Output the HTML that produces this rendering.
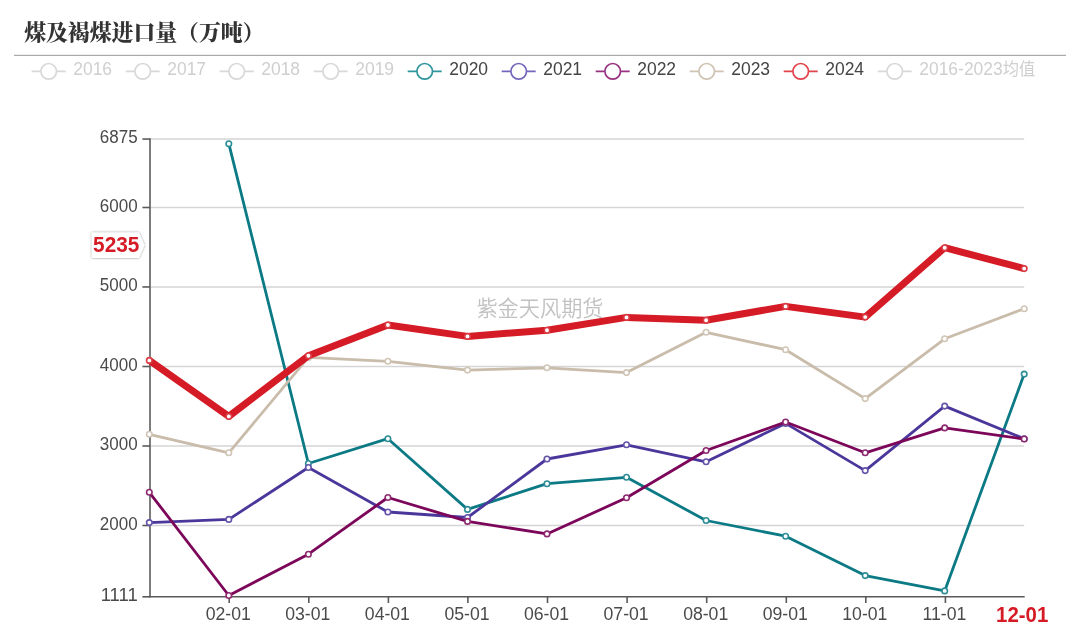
<!DOCTYPE html>
<html lang="zh-CN">
<head>
<meta charset="utf-8">
<title>煤及褐煤进口量（万吨）</title>
<style>
html,body{margin:0;padding:0;background:#fff;}
body{width:1080px;height:630px;overflow:hidden;position:relative;}
svg{position:absolute;left:0;top:0;display:block;}
text{font-family:"Liberation Sans", "Noto Sans CJK SC", sans-serif;}
.title{font-family:"Liberation Serif", "Noto Serif CJK SC", serif;font-weight:900;font-size:21.85px;fill:#333;}
.ax{font-size:18.5px;fill:#4a4a4a;}
.lg{font-size:18.5px;fill:#444;}
.lgoff{font-size:18.5px;fill:#cfcfcf;}
.wm{font-size:21.2px;fill:#c1c1c1;font-weight:350;}
.hl{font-size:21.9px;font-weight:bold;fill:#d51b25;}
</style>
</head>
<body>
<svg width="1080" height="630" viewBox="0 0 1080 630">
<rect x="0" y="0" width="1080" height="630" fill="#ffffff"/>
<text class="title" x="24.2" y="40.4">煤及褐煤进口量（万吨）</text>
<rect x="14" y="54.8" width="1052" height="1.2" fill="#a9a9a9"/>
<g><line x1="31.7" y1="71.3" x2="65.7" y2="71.3" stroke="#d8d8d8" stroke-width="1.7"/><circle cx="48.7" cy="71.3" r="7.8" fill="#fff" stroke="#d8d8d8" stroke-width="1.7"/><text class="lgoff" transform="translate(73.20,75.20) scale(0.945,1)">2016</text></g>
<g><line x1="125.7" y1="71.3" x2="159.7" y2="71.3" stroke="#d8d8d8" stroke-width="1.7"/><circle cx="142.7" cy="71.3" r="7.8" fill="#fff" stroke="#d8d8d8" stroke-width="1.7"/><text class="lgoff" transform="translate(167.20,75.20) scale(0.945,1)">2017</text></g>
<g><line x1="219.7" y1="71.3" x2="253.7" y2="71.3" stroke="#d8d8d8" stroke-width="1.7"/><circle cx="236.7" cy="71.3" r="7.8" fill="#fff" stroke="#d8d8d8" stroke-width="1.7"/><text class="lgoff" transform="translate(261.20,75.20) scale(0.945,1)">2018</text></g>
<g><line x1="313.7" y1="71.3" x2="347.7" y2="71.3" stroke="#d8d8d8" stroke-width="1.7"/><circle cx="330.7" cy="71.3" r="7.8" fill="#fff" stroke="#d8d8d8" stroke-width="1.7"/><text class="lgoff" transform="translate(355.20,75.20) scale(0.945,1)">2019</text></g>
<g><line x1="407.7" y1="71.3" x2="441.7" y2="71.3" stroke="#2f959e" stroke-width="1.7"/><circle cx="424.7" cy="71.3" r="7.8" fill="#fff" stroke="#2f959e" stroke-width="1.7"/><text class="lg" transform="translate(449.20,75.20) scale(0.945,1)">2020</text></g>
<g><line x1="501.7" y1="71.3" x2="535.7" y2="71.3" stroke="#7666bb" stroke-width="1.7"/><circle cx="518.7" cy="71.3" r="7.8" fill="#fff" stroke="#7666bb" stroke-width="1.7"/><text class="lg" transform="translate(543.20,75.20) scale(0.945,1)">2021</text></g>
<g><line x1="595.7" y1="71.3" x2="629.7" y2="71.3" stroke="#973382" stroke-width="1.7"/><circle cx="612.7" cy="71.3" r="7.8" fill="#fff" stroke="#973382" stroke-width="1.7"/><text class="lg" transform="translate(637.20,75.20) scale(0.945,1)">2022</text></g>
<g><line x1="689.7" y1="71.3" x2="723.7" y2="71.3" stroke="#cfc3b2" stroke-width="1.7"/><circle cx="706.7" cy="71.3" r="7.8" fill="#fff" stroke="#cfc3b2" stroke-width="1.7"/><text class="lg" transform="translate(731.20,75.20) scale(0.945,1)">2023</text></g>
<g><line x1="783.7" y1="71.3" x2="817.7" y2="71.3" stroke="#e0444a" stroke-width="1.7"/><circle cx="800.7" cy="71.3" r="7.8" fill="#fff" stroke="#e0444a" stroke-width="1.7"/><text class="lg" transform="translate(825.20,75.20) scale(0.945,1)">2024</text></g>
<g><line x1="877.7" y1="71.3" x2="911.7" y2="71.3" stroke="#d8d8d8" stroke-width="1.7"/><circle cx="894.7" cy="71.3" r="7.8" fill="#fff" stroke="#d8d8d8" stroke-width="1.7"/><text class="lgoff" transform="translate(919.20,75.20) scale(0.945,1)">2016-2023<tspan font-size="17.2">均值</tspan></text></g>
<line x1="150.0" y1="139.05" x2="1024.2" y2="139.05" stroke="#d5d5d5" stroke-width="1.5"/>
<line x1="150.0" y1="207.50" x2="1024.2" y2="207.50" stroke="#d5d5d5" stroke-width="1.5"/>
<line x1="150.0" y1="286.95" x2="1024.2" y2="286.95" stroke="#d5d5d5" stroke-width="1.5"/>
<line x1="150.0" y1="366.50" x2="1024.2" y2="366.50" stroke="#d5d5d5" stroke-width="1.5"/>
<line x1="150.0" y1="446.00" x2="1024.2" y2="446.00" stroke="#d5d5d5" stroke-width="1.5"/>
<line x1="150.0" y1="525.50" x2="1024.2" y2="525.50" stroke="#d5d5d5" stroke-width="1.5"/>
<text class="wm" x="540" y="315.7" text-anchor="middle">紫金天风期货</text>
<line x1="150.0" y1="138.25" x2="150.0" y2="597.60" stroke="#666" stroke-width="1.7"/>
<line x1="149.2" y1="596.80" x2="1024.7" y2="596.80" stroke="#5a5a5a" stroke-width="1.6"/>
<line x1="142.4" y1="139.05" x2="150.0" y2="139.05" stroke="#5a5a5a" stroke-width="1.6"/>
<text class="ax" transform="translate(137.70,143.45) scale(0.92,1)" text-anchor="end">6875</text>
<line x1="142.4" y1="207.50" x2="150.0" y2="207.50" stroke="#5a5a5a" stroke-width="1.6"/>
<text class="ax" transform="translate(137.70,211.90) scale(0.92,1)" text-anchor="end">6000</text>
<line x1="142.4" y1="286.95" x2="150.0" y2="286.95" stroke="#5a5a5a" stroke-width="1.6"/>
<text class="ax" transform="translate(137.70,291.35) scale(0.92,1)" text-anchor="end">5000</text>
<line x1="142.4" y1="366.50" x2="150.0" y2="366.50" stroke="#5a5a5a" stroke-width="1.6"/>
<text class="ax" transform="translate(137.70,370.90) scale(0.92,1)" text-anchor="end">4000</text>
<line x1="142.4" y1="446.00" x2="150.0" y2="446.00" stroke="#5a5a5a" stroke-width="1.6"/>
<text class="ax" transform="translate(137.70,450.40) scale(0.92,1)" text-anchor="end">3000</text>
<line x1="142.4" y1="525.50" x2="150.0" y2="525.50" stroke="#5a5a5a" stroke-width="1.6"/>
<text class="ax" transform="translate(137.70,529.90) scale(0.92,1)" text-anchor="end">2000</text>
<line x1="142.4" y1="596.80" x2="150.0" y2="596.80" stroke="#5a5a5a" stroke-width="1.6"/>
<text class="ax" transform="translate(137.70,601.20) scale(1.0,1)" text-anchor="end">1111</text>
<line x1="229.2" y1="596.8" x2="229.2" y2="603.0" stroke="#5a5a5a" stroke-width="1.6"/>
<text class="ax" transform="translate(228.20,619.90) scale(0.953,1)" text-anchor="middle">02-01</text>
<line x1="308.8" y1="596.8" x2="308.8" y2="603.0" stroke="#5a5a5a" stroke-width="1.6"/>
<text class="ax" transform="translate(307.78,619.90) scale(0.953,1)" text-anchor="middle">03-01</text>
<line x1="388.4" y1="596.8" x2="388.4" y2="603.0" stroke="#5a5a5a" stroke-width="1.6"/>
<text class="ax" transform="translate(387.36,619.90) scale(0.953,1)" text-anchor="middle">04-01</text>
<line x1="467.9" y1="596.8" x2="467.9" y2="603.0" stroke="#5a5a5a" stroke-width="1.6"/>
<text class="ax" transform="translate(466.94,619.90) scale(0.953,1)" text-anchor="middle">05-01</text>
<line x1="547.5" y1="596.8" x2="547.5" y2="603.0" stroke="#5a5a5a" stroke-width="1.6"/>
<text class="ax" transform="translate(546.52,619.90) scale(0.953,1)" text-anchor="middle">06-01</text>
<line x1="627.1" y1="596.8" x2="627.1" y2="603.0" stroke="#5a5a5a" stroke-width="1.6"/>
<text class="ax" transform="translate(626.10,619.90) scale(0.953,1)" text-anchor="middle">07-01</text>
<line x1="706.7" y1="596.8" x2="706.7" y2="603.0" stroke="#5a5a5a" stroke-width="1.6"/>
<text class="ax" transform="translate(705.68,619.90) scale(0.953,1)" text-anchor="middle">08-01</text>
<line x1="786.3" y1="596.8" x2="786.3" y2="603.0" stroke="#5a5a5a" stroke-width="1.6"/>
<text class="ax" transform="translate(785.26,619.90) scale(0.953,1)" text-anchor="middle">09-01</text>
<line x1="865.8" y1="596.8" x2="865.8" y2="603.0" stroke="#5a5a5a" stroke-width="1.6"/>
<text class="ax" transform="translate(864.84,619.90) scale(0.953,1)" text-anchor="middle">10-01</text>
<line x1="945.4" y1="596.8" x2="945.4" y2="603.0" stroke="#5a5a5a" stroke-width="1.6"/>
<text class="ax" transform="translate(944.42,619.90) scale(0.953,1)" text-anchor="middle">11-01</text>
<text class="hl" transform="translate(1022.15,621.80) scale(0.934,1)" text-anchor="middle">12-01</text>
<g><polyline points="228.8,143.7 308.4,463.5 387.9,438.7 467.5,509.4 547.0,483.7 626.5,477.3 706.1,520.5 785.6,536.2 865.2,575.6 944.7,590.9 1024.2,374.1" fill="none" stroke="#0b7a85" stroke-width="2.8" stroke-linejoin="bevel"/>
<circle cx="228.8" cy="143.7" r="2.75" fill="#fff" stroke="#2d8d96" stroke-width="1.6"/>
<circle cx="308.4" cy="463.5" r="2.75" fill="#fff" stroke="#2d8d96" stroke-width="1.6"/>
<circle cx="387.9" cy="438.7" r="2.75" fill="#fff" stroke="#2d8d96" stroke-width="1.6"/>
<circle cx="467.5" cy="509.4" r="2.75" fill="#fff" stroke="#2d8d96" stroke-width="1.6"/>
<circle cx="547.0" cy="483.7" r="2.75" fill="#fff" stroke="#2d8d96" stroke-width="1.6"/>
<circle cx="626.5" cy="477.3" r="2.75" fill="#fff" stroke="#2d8d96" stroke-width="1.6"/>
<circle cx="706.1" cy="520.5" r="2.75" fill="#fff" stroke="#2d8d96" stroke-width="1.6"/>
<circle cx="785.6" cy="536.2" r="2.75" fill="#fff" stroke="#2d8d96" stroke-width="1.6"/>
<circle cx="865.2" cy="575.6" r="2.75" fill="#fff" stroke="#2d8d96" stroke-width="1.6"/>
<circle cx="944.7" cy="590.9" r="2.75" fill="#fff" stroke="#2d8d96" stroke-width="1.6"/>
<circle cx="1024.2" cy="374.1" r="2.75" fill="#fff" stroke="#2d8d96" stroke-width="1.6"/>
</g>
<g><polyline points="149.3,522.6 228.8,519.4 308.4,467.5 387.9,512.0 467.5,517.5 547.0,459.0 626.5,444.8 706.1,461.8 785.6,423.4 865.2,470.6 944.7,406.1 1024.2,438.7" fill="none" stroke="#4b379b" stroke-width="2.8" stroke-linejoin="bevel"/>
<circle cx="149.3" cy="522.6" r="2.75" fill="#fff" stroke="#6453a9" stroke-width="1.6"/>
<circle cx="228.8" cy="519.4" r="2.75" fill="#fff" stroke="#6453a9" stroke-width="1.6"/>
<circle cx="308.4" cy="467.5" r="2.75" fill="#fff" stroke="#6453a9" stroke-width="1.6"/>
<circle cx="387.9" cy="512.0" r="2.75" fill="#fff" stroke="#6453a9" stroke-width="1.6"/>
<circle cx="467.5" cy="517.5" r="2.75" fill="#fff" stroke="#6453a9" stroke-width="1.6"/>
<circle cx="547.0" cy="459.0" r="2.75" fill="#fff" stroke="#6453a9" stroke-width="1.6"/>
<circle cx="626.5" cy="444.8" r="2.75" fill="#fff" stroke="#6453a9" stroke-width="1.6"/>
<circle cx="706.1" cy="461.8" r="2.75" fill="#fff" stroke="#6453a9" stroke-width="1.6"/>
<circle cx="785.6" cy="423.4" r="2.75" fill="#fff" stroke="#6453a9" stroke-width="1.6"/>
<circle cx="865.2" cy="470.6" r="2.75" fill="#fff" stroke="#6453a9" stroke-width="1.6"/>
<circle cx="944.7" cy="406.1" r="2.75" fill="#fff" stroke="#6453a9" stroke-width="1.6"/>
<circle cx="1024.2" cy="438.7" r="2.75" fill="#fff" stroke="#6453a9" stroke-width="1.6"/>
</g>
<g><polyline points="149.3,492.3 228.8,595.5 308.4,554.2 387.9,497.5 467.5,521.4 547.0,533.9 626.5,497.8 706.1,450.5 785.6,422.0 865.2,452.8 944.7,427.9 1024.2,439.0" fill="none" stroke="#7c0659" stroke-width="2.8" stroke-linejoin="bevel"/>
<circle cx="149.3" cy="492.3" r="2.75" fill="#fff" stroke="#8e2970" stroke-width="1.6"/>
<circle cx="228.8" cy="595.5" r="2.75" fill="#fff" stroke="#8e2970" stroke-width="1.6"/>
<circle cx="308.4" cy="554.2" r="2.75" fill="#fff" stroke="#8e2970" stroke-width="1.6"/>
<circle cx="387.9" cy="497.5" r="2.75" fill="#fff" stroke="#8e2970" stroke-width="1.6"/>
<circle cx="467.5" cy="521.4" r="2.75" fill="#fff" stroke="#8e2970" stroke-width="1.6"/>
<circle cx="547.0" cy="533.9" r="2.75" fill="#fff" stroke="#8e2970" stroke-width="1.6"/>
<circle cx="626.5" cy="497.8" r="2.75" fill="#fff" stroke="#8e2970" stroke-width="1.6"/>
<circle cx="706.1" cy="450.5" r="2.75" fill="#fff" stroke="#8e2970" stroke-width="1.6"/>
<circle cx="785.6" cy="422.0" r="2.75" fill="#fff" stroke="#8e2970" stroke-width="1.6"/>
<circle cx="865.2" cy="452.8" r="2.75" fill="#fff" stroke="#8e2970" stroke-width="1.6"/>
<circle cx="944.7" cy="427.9" r="2.75" fill="#fff" stroke="#8e2970" stroke-width="1.6"/>
<circle cx="1024.2" cy="439.0" r="2.75" fill="#fff" stroke="#8e2970" stroke-width="1.6"/>
</g>
<g><polyline points="149.3,434.3 228.8,452.8 308.4,357.4 387.9,361.3 467.5,370.1 547.0,367.8 626.5,372.6 706.1,332.3 785.6,349.7 865.2,398.6 944.7,338.8 1024.2,308.7" fill="none" stroke="#c9bcaa" stroke-width="2.8" stroke-linejoin="bevel"/>
<circle cx="149.3" cy="434.3" r="2.75" fill="#fff" stroke="#d1c5b6" stroke-width="1.6"/>
<circle cx="228.8" cy="452.8" r="2.75" fill="#fff" stroke="#d1c5b6" stroke-width="1.6"/>
<circle cx="308.4" cy="357.4" r="2.75" fill="#fff" stroke="#d1c5b6" stroke-width="1.6"/>
<circle cx="387.9" cy="361.3" r="2.75" fill="#fff" stroke="#d1c5b6" stroke-width="1.6"/>
<circle cx="467.5" cy="370.1" r="2.75" fill="#fff" stroke="#d1c5b6" stroke-width="1.6"/>
<circle cx="547.0" cy="367.8" r="2.75" fill="#fff" stroke="#d1c5b6" stroke-width="1.6"/>
<circle cx="626.5" cy="372.6" r="2.75" fill="#fff" stroke="#d1c5b6" stroke-width="1.6"/>
<circle cx="706.1" cy="332.3" r="2.75" fill="#fff" stroke="#d1c5b6" stroke-width="1.6"/>
<circle cx="785.6" cy="349.7" r="2.75" fill="#fff" stroke="#d1c5b6" stroke-width="1.6"/>
<circle cx="865.2" cy="398.6" r="2.75" fill="#fff" stroke="#d1c5b6" stroke-width="1.6"/>
<circle cx="944.7" cy="338.8" r="2.75" fill="#fff" stroke="#d1c5b6" stroke-width="1.6"/>
<circle cx="1024.2" cy="308.7" r="2.75" fill="#fff" stroke="#d1c5b6" stroke-width="1.6"/>
</g>
<g><polyline points="149.3,360.4 228.8,416.4 308.4,355.8 387.9,325.0 467.5,336.4 547.0,330.2 626.5,317.4 706.1,320.3 785.6,306.4 865.2,317.1 944.7,247.7 1024.2,268.6" fill="none" stroke="#d51b25" stroke-width="7.0" stroke-linejoin="bevel"/>
<circle cx="149.3" cy="360.4" r="2.75" fill="#fff" stroke="#db3b44" stroke-width="1.6"/>
<circle cx="228.8" cy="416.4" r="2.75" fill="#fff" stroke="#db3b44" stroke-width="1.6"/>
<circle cx="308.4" cy="355.8" r="2.75" fill="#fff" stroke="#db3b44" stroke-width="1.6"/>
<circle cx="387.9" cy="325.0" r="2.75" fill="#fff" stroke="#db3b44" stroke-width="1.6"/>
<circle cx="467.5" cy="336.4" r="2.75" fill="#fff" stroke="#db3b44" stroke-width="1.6"/>
<circle cx="547.0" cy="330.2" r="2.75" fill="#fff" stroke="#db3b44" stroke-width="1.6"/>
<circle cx="626.5" cy="317.4" r="2.75" fill="#fff" stroke="#db3b44" stroke-width="1.6"/>
<circle cx="706.1" cy="320.3" r="2.75" fill="#fff" stroke="#db3b44" stroke-width="1.6"/>
<circle cx="785.6" cy="306.4" r="2.75" fill="#fff" stroke="#db3b44" stroke-width="1.6"/>
<circle cx="865.2" cy="317.1" r="2.75" fill="#fff" stroke="#db3b44" stroke-width="1.6"/>
<circle cx="944.7" cy="247.7" r="2.75" fill="#fff" stroke="#db3b44" stroke-width="1.6"/>
<circle cx="1024.2" cy="268.6" r="2.75" fill="#fff" stroke="#db3b44" stroke-width="1.6"/>
</g>
<defs><filter id="sh" x="-20%" y="-30%" width="140%" height="160%"><feDropShadow dx="0" dy="0" stdDeviation="0.8" flood-color="#000000" flood-opacity="0.5"/></filter></defs>
<g><path d="M91.8 232.6 H139 L144.4 245.3 L139 258 H91.8 Z" fill="#fff" filter="url(#sh)"/>
<text class="hl" transform="translate(116.20,251.90) scale(0.95,1)" text-anchor="middle">5235</text></g>
</svg>
</body>
</html>
